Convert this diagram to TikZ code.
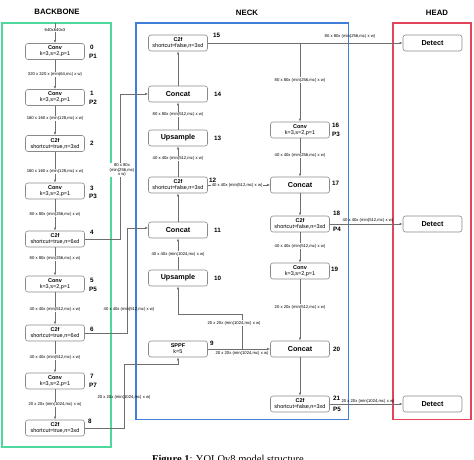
\documentclass[tikz,border=0pt]{standalone}
\usepackage{fontspec}
\setmainfont{Liberation Sans}
\newfontfamily\capfont{Liberation Serif}
\usetikzlibrary{arrows.meta}
\definecolor{bbgreen}{HTML}{4FD89E}
\definecolor{nkblue}{HTML}{3F7FD8}
\definecolor{hdred}{HTML}{E2445C}
\definecolor{boxgray}{HTML}{8A8A8A}
\definecolor{edgegray}{HTML}{6E6E6E}
\begin{document}
\begin{tikzpicture}[x=1pt,y=-1pt,
  blk/.style={draw=boxgray, rounded corners=2.5pt, minimum width=59pt, minimum height=16pt,
    inner sep=0pt, align=center, line width=0.6pt, fill=white,
    font=\fontsize{5.5}{6}\selectfont},
  bigblk/.style={blk, font=\fontsize{7.2}{8}\selectfont\bfseries},
  num/.style={anchor=west, inner sep=0pt, font=\fontsize{6.3}{7}\selectfont\bfseries},
  lbl/.style={fill=white, inner sep=0.6pt, font=\fontsize{4.2}{4.8}\selectfont, align=center},
  lblc/.style={inner sep=0.6pt, font=\fontsize{4.2}{4.8}\selectfont, align=center},
  title/.style={font=\fontsize{7.8}{9}\selectfont\bfseries},
  edge/.style={draw=edgegray, line width=0.6pt, -{Latex[length=3pt,width=2.4pt]}},
  panel/.style={line width=1.3pt}
]
\useasboundingbox (0,0) rectangle (474,460);

% panels
\draw[panel, bbgreen] (2,23) rectangle (111,447);
\draw[panel, nkblue] (136,23) rectangle (348.5,419.5);
\draw[panel, hdred] (393,23) rectangle (471,419.5);
\node[title] (tb) at (57,12) {BACKBONE};
\node[title] (tn) at (247,13) {NECK};
\node[title] (th) at (437,13) {HEAD};

% backbone nodes
\node[blk] (n0) at (55,51.5) {\textbf{Conv}\\k=3,s=2,p=1};
\node[blk] (n1) at (55,97.5) {\textbf{Conv}\\k=3,s=2,p=1};
\node[blk] (n2) at (55,143.5) {\textbf{C2f}\\shortcut=true,n=3xd};
\node[blk] (n3) at (55,191) {\textbf{Conv}\\k=3,s=2,p=1};
\node[blk] (n4) at (55,239) {\textbf{C2f}\\shortcut=true,n=6xd};
\node[blk] (n5) at (55,284) {\textbf{Conv}\\k=3,s=2,p=1};
\node[blk] (n6) at (55,333) {\textbf{C2f}\\shortcut=true,n=6xd};
\node[blk] (n7) at (55,381) {\textbf{Conv}\\k=3,s=2,p=1};
\node[blk] (n8) at (55,428) {\textbf{C2f}\\shortcut=true,n=3xd};

% neck nodes
\node[blk] (n9) at (178,349) {\textbf{SPPF}\\k=5};
\node[bigblk] (n10) at (178,278) {Upsample};
\node[bigblk] (n11) at (178,230) {Concat};
\node[blk] (n12) at (178,185) {\textbf{C2f}\\shortcut=false,n=3xd};
\node[bigblk] (n13) at (178,138) {Upsample};
\node[bigblk] (n14) at (178,94) {Concat};
\node[blk] (n15) at (178,43) {\textbf{C2f}\\shortcut=false,n=3xd};
\node[blk] (n16) at (300,130) {\textbf{Conv}\\k=3,s=2,p=1};
\node[bigblk] (n17) at (300,185) {Concat};
\node[blk] (n18) at (300,224) {\textbf{C2f}\\shortcut=false,n=3xd};
\node[blk] (n19) at (300,271) {\textbf{Conv}\\k=3,s=2,p=1};
\node[bigblk] (n20) at (300,349) {Concat};
\node[blk] (n21) at (300,404) {\textbf{C2f}\\shortcut=false,n=3xd};

% head nodes
\node[bigblk] (d1) at (432.5,43) {Detect};
\node[bigblk] (d2) at (432.5,224) {Detect};
\node[bigblk] (d3) at (432.5,404) {Detect};

% numbers
\node[num] (l0) at (90,47) {0};   \node[num] (p1) at (89,56) {P1};
\node[num] (l1) at (90,93) {1};   \node[num] (p2) at (89,102) {P2};
\node[num] (l2) at (90,143) {2};
\node[num] (l3) at (90,188) {3};  \node[num] (p3) at (89,196) {P3};
\node[num] (l4) at (90,232) {4};
\node[num] (l5) at (90,280) {5};  \node[num] (p5) at (89,289) {P5};
\node[num] (l6) at (90,329) {6};
\node[num] (l7) at (90,376) {7};  \node[num] (p7) at (89,385) {P7};
\node[num] (l8) at (88,421) {8};
\node[num] (l9) at (210,343) {9};
\node[num] (l10) at (214,278) {10};
\node[num] (l11) at (214,230) {11};
\node[num] (l12) at (209,180) {12};
\node[num] (l13) at (214,138) {13};
\node[num] (l14) at (214,94) {14};
\node[num] (l15) at (213,35) {15};
\node[num] (l16) at (332,125) {16}; \node[num] (q3) at (332,134) {P3};
\node[num] (l17) at (332,183) {17};
\node[num] (l18) at (333,213) {18}; \node[num] (q4) at (333,229) {P4};
\node[num] (l19) at (331,269) {19};
\node[num] (l20) at (333,349) {20};
\node[num] (l21) at (333,398) {21}; \node[num] (q5) at (333,409) {P5};

% coordinates for routing
\coordinate (inp) at (55,23);
\coordinate (a4) at (120,239);
\coordinate (b4) at (120,94);
\coordinate (a6) at (127.5,333);
\coordinate (b6) at (127.5,228);
\coordinate (a8) at (124,428);
\coordinate (b8) at (124,364);
\coordinate (c8) at (178,364);
\coordinate (s1) at (242,349);
\coordinate (s2) at (242,314);
\coordinate (s3) at (178,314);
\coordinate (t1) at (300,43);

% backbone edges
\draw[edge] (inp) -- node[lbl, pos=0.35] {640x640x3} (n0);
\draw[edge] (n0) -- node[lbl, pos=0.5] {320 x 320 x (min(64,mc) x w)} (n1);
\draw[edge] (n1) -- node[lbl, pos=0.43] {160 x 160 x (min(128,mc) x w)} (n2);
\draw[edge] (n2) -- node[lbl, pos=0.63] {160 x 160 x (min(128,mc) x w)} (n3);
\draw[edge] (n3) -- node[lbl, pos=0.48] {80 x 80x (min(256,mc) x w)} (n4);
\draw[edge] (n4) -- node[lbl, pos=0.4] {80 x 80x (min(256,mc) x w)} (n5);
\draw[edge] (n5) -- node[lbl, pos=0.52] {40 x 40x (min(512,mc) x w)} (n6);
\draw[edge] (n6) -- node[lbl, pos=0.5] {40 x 40x (min(512,mc) x w)} (n7);
\draw[edge] (n7) -- node[lbl, pos=0.5] {20 x 20x (min(1024,mc) x w)} (n8);

% backbone to neck
\draw[edge] (n4.east) -- (a4) -- (b4) -- (n14.west);
\node[lbl] (lb4) at (122,170) {80 x 80x\\(min(256,mc)\\x w)};
\draw[edge] (n6.east) -- (a6) -- (b6) -- (b6 -| n11.west);
\node[lblc] (lb6) at (129,309.5) {40 x 40x (min(512,mc) x w)};
\draw[edge] (n8.east) -- (a8) -- (b8) -- (c8) -- (n9.south);
\node[lblc] (lb8) at (124,397) {20 x 20x (min(1024,mc) x w)};

% neck left column
\draw[edge] (n9.east) -- (n20.west);
\node[lblc] (lb9) at (242,353.5) {20 x 20x (min(1024,mc) x w)};
\draw[edge] (s1) -- (s2) -- (s3) -- (n10.south);
\node[lbl] (lb9b) at (234,323) {20 x 20x (min(1024,mc) x w)};
\draw[edge] (n10) -- node[lbl, pos=0.5] {40 x 40x (min(1024,mc) x w)} (n11);
\draw[edge] (n11) -- (n12);
\draw[edge] (n12) -- node[lbl, pos=0.6] {40 x 40x (min(512,mc) x w)} (n13);
\draw[edge] (n13) -- node[lbl, pos=0.55] {80 x 80x (min(512,mc) x w)} (n14);
\draw[edge] (n14) -- (n15);
\draw[edge] (n12) -- node[lbl, pos=0.47] {40 x 40x (min(512,mc) x w)} (n17);

% neck right column
\draw[edge] (n15.east) -- (d1.west);
\node[lblc] (lb15) at (350,36) {80 x 80x (min(256,mc) x w)};
\draw[edge] (t1) -- node[lbl, pos=0.47] {80 x 80x (min(256,mc) x w)} (n16);
\draw[edge] (n16) -- node[lbl, pos=0.45] {40 x 40x (min(256,mc) x w)} (n17);
\draw[edge] (n17) -- (n18);
\draw[edge] (n18) -- (d2);
\node[lblc] (lb18) at (368,220) {40 x 40x (min(512,mc) x w)};
\draw[edge] (n18) -- node[lbl, pos=0.45] {40 x 40x (min(512,mc) x w)} (n19);
\draw[edge] (n19) -- node[lbl, pos=0.45] {20 x 20x (min(512,mc) x w)} (n20);
\draw[edge] (n20) -- (n21);
\draw[edge] (n21) -- (d3);
\node[lblc] (lb21) at (368,401) {20 x 20x (min(1024,mc) x w)};

% caption (cut off by the page edge, as in the reference)
\node[anchor=north, inner sep=0pt, font=\capfont\fontsize{10.5}{12}\selectfont] (cap) at (228,455.5) {\textbf{Figure 1}: YOLOv8 model structure};
\end{tikzpicture}
\end{document}
